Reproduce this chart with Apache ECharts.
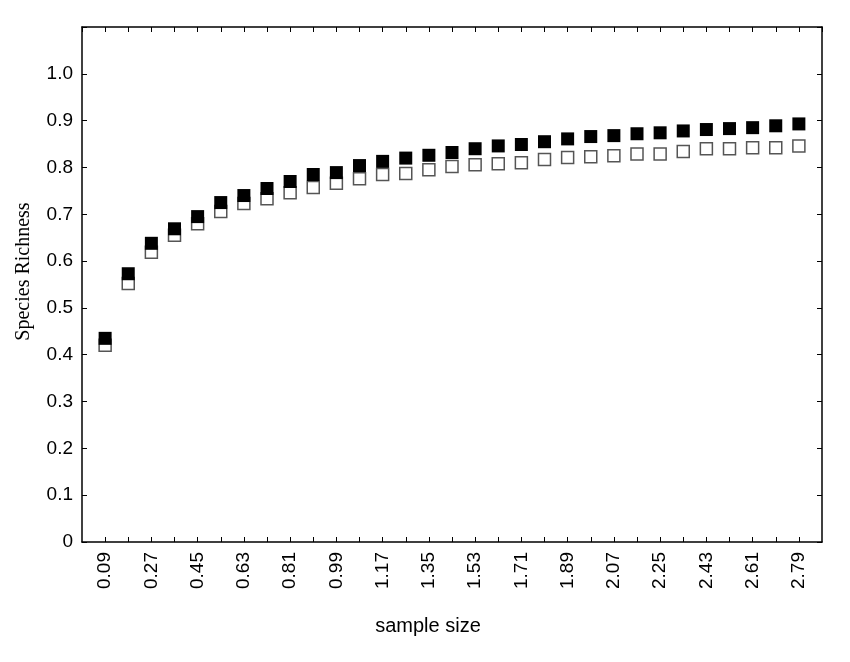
<!DOCTYPE html>
<html><head><meta charset="utf-8">
<script src="https://cdn.jsdelivr.net/npm/echarts@6/dist/echarts.min.js"></script>
<style>html,body{margin:0;padding:0;background:#fff}#c{width:850px;height:662px}</style>
</head><body><div id="c"></div>
<script>
const sampleSize = [0.09,0.18,0.27,0.36,0.45,0.54,0.63,0.72,0.81,0.90,0.99,1.08,1.17,1.26,1.35,1.44,1.53,1.62,1.71,1.80,1.89,1.98,2.07,2.16,2.25,2.34,2.43,2.52,2.61,2.70,2.79];
const filledSeries = [0.435,0.573,0.638,0.669,0.695,0.725,0.740,0.755,0.770,0.785,0.789,0.804,0.813,0.820,0.826,0.832,0.840,0.846,0.849,0.855,0.861,0.866,0.868,0.872,0.874,0.878,0.881,0.883,0.885,0.889,0.893];
const openSeries = [0.420,0.552,0.619,0.655,0.680,0.706,0.723,0.733,0.746,0.757,0.766,0.776,0.785,0.787,0.795,0.802,0.806,0.808,0.810,0.817,0.821,0.823,0.825,0.829,0.829,0.834,0.840,0.840,0.842,0.842,0.846];
const yTickLabels = ['0','0.1','0.2','0.3','0.4','0.5','0.6','0.7','0.8','0.9','1.0'];

const chart = echarts.init(document.getElementById('c'), null, {renderer:'canvas'});
const axisLine = {show:true, onZero:false, lineStyle:{color:'#000', width:1.5}};
const tick = {show:true, inside:true, length:5, lineStyle:{color:'#000', width:1}};
const sans = 'Liberation Sans, Arial, sans-serif';
chart.setOption({
  animation:false,
  grid:{left:82, right:28, top:27, bottom:120, containLabel:false},
  xAxis:[{
    type:'value', position:'bottom', min:0, max:2.88, interval:0.09,
    axisLine:axisLine, axisTick:tick, splitLine:{show:false},
    axisLabel:{rotate:90, margin:10, fontSize:19, color:'#000', fontFamily:sans,
      showMinLabel:false, showMaxLabel:false,
      formatter:function(v){const k=Math.round(v/0.09); return (k%2===1)? sampleSize[k-1].toFixed(2) : '';}},
    name:'sample size', nameLocation:'middle', nameGap:74,
    nameTextStyle:{fontSize:20, color:'#000', fontFamily:sans, padding:[0,48,0,0]}
  },{
    type:'value', position:'top', min:0, max:2.88, interval:0.09,
    axisLine:axisLine, axisTick:tick, axisLabel:{show:false}, splitLine:{show:false}
  }],
  yAxis:[{
    type:'value', position:'left', min:0, max:1.1, interval:0.1,
    axisLine:axisLine, axisTick:tick, splitLine:{show:false},
    axisLabel:{margin:9, fontSize:19, color:'#000', fontFamily:sans,
      formatter:function(v){const k=Math.round(v*10); return k<yTickLabels.length? yTickLabels[k] : '';}},
    name:'Species Richness', nameLocation:'middle', nameGap:48,
    nameTextStyle:{fontSize:20, color:'#000', fontFamily:'Liberation Serif, Times New Roman, serif', padding:[0,0,0,26]}
  },{
    type:'value', position:'right', min:0, max:1.1, interval:0.1,
    axisLine:axisLine, axisTick:tick, axisLabel:{show:false}, splitLine:{show:false}
  }],
  series:[{
    type:'scatter', symbol:'rect', symbolSize:12, z:2,
    data: sampleSize.map((x,i)=>[x, openSeries[i]]),
    itemStyle:{color:'#fff', borderColor:'#555', borderWidth:1.5, opacity:1}
  },{
    type:'scatter', symbol:'rect', symbolSize:13, z:3,
    data: sampleSize.map((x,i)=>[x, filledSeries[i]]),
    itemStyle:{color:'#000', opacity:1}
  }]
});
</script></body></html>
